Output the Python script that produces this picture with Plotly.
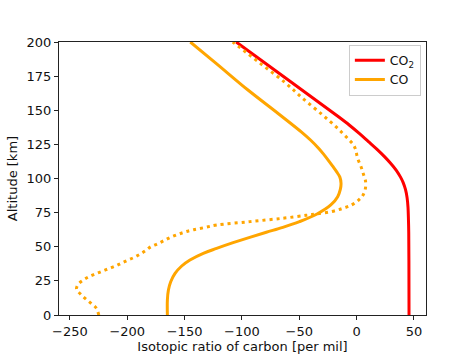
import plotly.graph_objects as go

# CO2 profile (red)
co2_alt = [0, 40, 60, 70, 79, 86, 92, 97, 101, 106, 111, 116, 121, 127, 133, 139, 145, 170, 200]
co2_val = [45.7, 45.6, 45.45, 45.2, 44.8, 44.0, 42.6, 40.6, 38.3, 34.6, 29.8, 24.3, 18.3, 10.3, 2.3, -6.2, -15.5, -56.0, -105.0]

# CO profile (orange, solid)
co_alt = [0, 11, 18.3, 24.4, 30.5, 35.9, 40.3, 45.2, 48.8, 53, 56.9, 60.6, 64.2, 68.4, 74, 80.6, 86.7, 92, 96.5, 101, 105, 109, 114, 118, 122, 128, 134, 148, 165, 184, 200]
co_val = [-165.0, -165.0, -164.1, -162.1, -158.3, -152.5, -145.3, -133.7, -122.1, -107.7, -93.2, -78.7, -64.3, -49.8, -34.5, -22.5, -16.5, -14.2, -13.6, -14.6, -17.5, -20.9, -25.3, -29.0, -33.0, -40.0, -48.0, -69.0, -95.0, -122.0, -145.0]

# CO profile (orange, dotted)
cod_alt = [0, 5, 8.5, 12, 15.5, 19, 22.5, 25.5, 28, 30, 32, 34, 36, 38, 40, 42, 44.5, 47, 50, 52, 54.5, 57, 59.3, 61, 62.5, 64, 65.9, 68.4, 70.9, 73, 74, 75.7, 78.1, 80.6, 84, 87, 92, 98, 103, 109, 115, 121, 125, 128.2, 133, 138, 146.5, 158, 170, 185, 200]
cod_val = [-224.8, -227.0, -231.5, -236.5, -241.0, -244.2, -242.8, -238.5, -233.5, -228.0, -222.0, -216.0, -210.0, -205.0, -200.0, -194.5, -189.0, -184.3, -179.5, -174.0, -168.0, -162.0, -155.0, -149.0, -142.0, -133.0, -122.0, -93.0, -64.0, -44.0, -35.3, -22.5, -12.2, -4.5, 1.5, 5.0, 7.5, 7.8, 6.0, 3.7, 0.8, -0.8, -3.0, -6.5, -12.0, -18.1, -29.6, -46.0, -62.0, -85.0, -108.0]

x_ticks = [-250, -200, -150, -100, -50, 0, 50]
x_ticktext = ["\u2212250", "\u2212200", "\u2212150", "\u2212100", "\u221250", "0", "50"]
y_ticks = [0, 25, 50, 75, 100, 125, 150, 175, 200]

RED = "#ff0000"
ORANGE = "#ffa500"
FONT = "DejaVu Sans"
TXT = "#111111"
FS = 13

fig = go.Figure()
fig.add_trace(go.Scatter(x=co2_val, y=co2_alt, mode="lines", name="CO<sub>2</sub>",
                         line=dict(color=RED, width=3, shape="spline", smoothing=1)))
fig.add_trace(go.Scatter(x=co_val, y=co_alt, mode="lines", name="CO",
                         line=dict(color=ORANGE, width=3, shape="spline", smoothing=1)))
fig.add_trace(go.Scatter(x=cod_val, y=cod_alt, mode="lines", name="CO (dotted)", showlegend=False,
                         line=dict(color=ORANGE, width=3, dash="3px,4px", shape="spline", smoothing=1)))

axis_common = dict(showline=True, linecolor="#222222", linewidth=1, mirror=True,
                   ticks="outside", ticklen=4, tickwidth=1, tickcolor="#222222",
                   showgrid=False, zeroline=False,
                   tickfont=dict(family=FONT, size=FS, color=TXT))

fig.update_xaxes(range=[-259.5, 60.5], tickvals=x_ticks, ticktext=x_ticktext,
                 title=dict(text="Isotopic ratio of carbon [per mil]", standoff=1,
                            font=dict(family=FONT, size=FS, color=TXT)),
                 **axis_common)
fig.update_yaxes(range=[0, 200], tickvals=y_ticks,
                 title=dict(text="Altitude [km]", standoff=6,
                            font=dict(family=FONT, size=FS, color=TXT)),
                 **axis_common)

fig.update_layout(
    width=474, height=355,
    margin=dict(l=59, r=48, t=42, b=40, autoexpand=False),
    plot_bgcolor="white", paper_bgcolor="white",
    font=dict(family=FONT, size=FS, color=TXT),
    legend=dict(x=0.986, y=0.99, xanchor="right", yanchor="top",
                bgcolor="rgba(255,255,255,0.85)", bordercolor="#cccccc", borderwidth=1,
                font=dict(family=FONT, size=12.5, color=TXT),
                itemwidth=30, tracegroupgap=0),
)

fig.write_html("out.html", config={"displayModeBar": False},
               post_script="document.body.style.margin='0';document.body.style.overflow='hidden';")
